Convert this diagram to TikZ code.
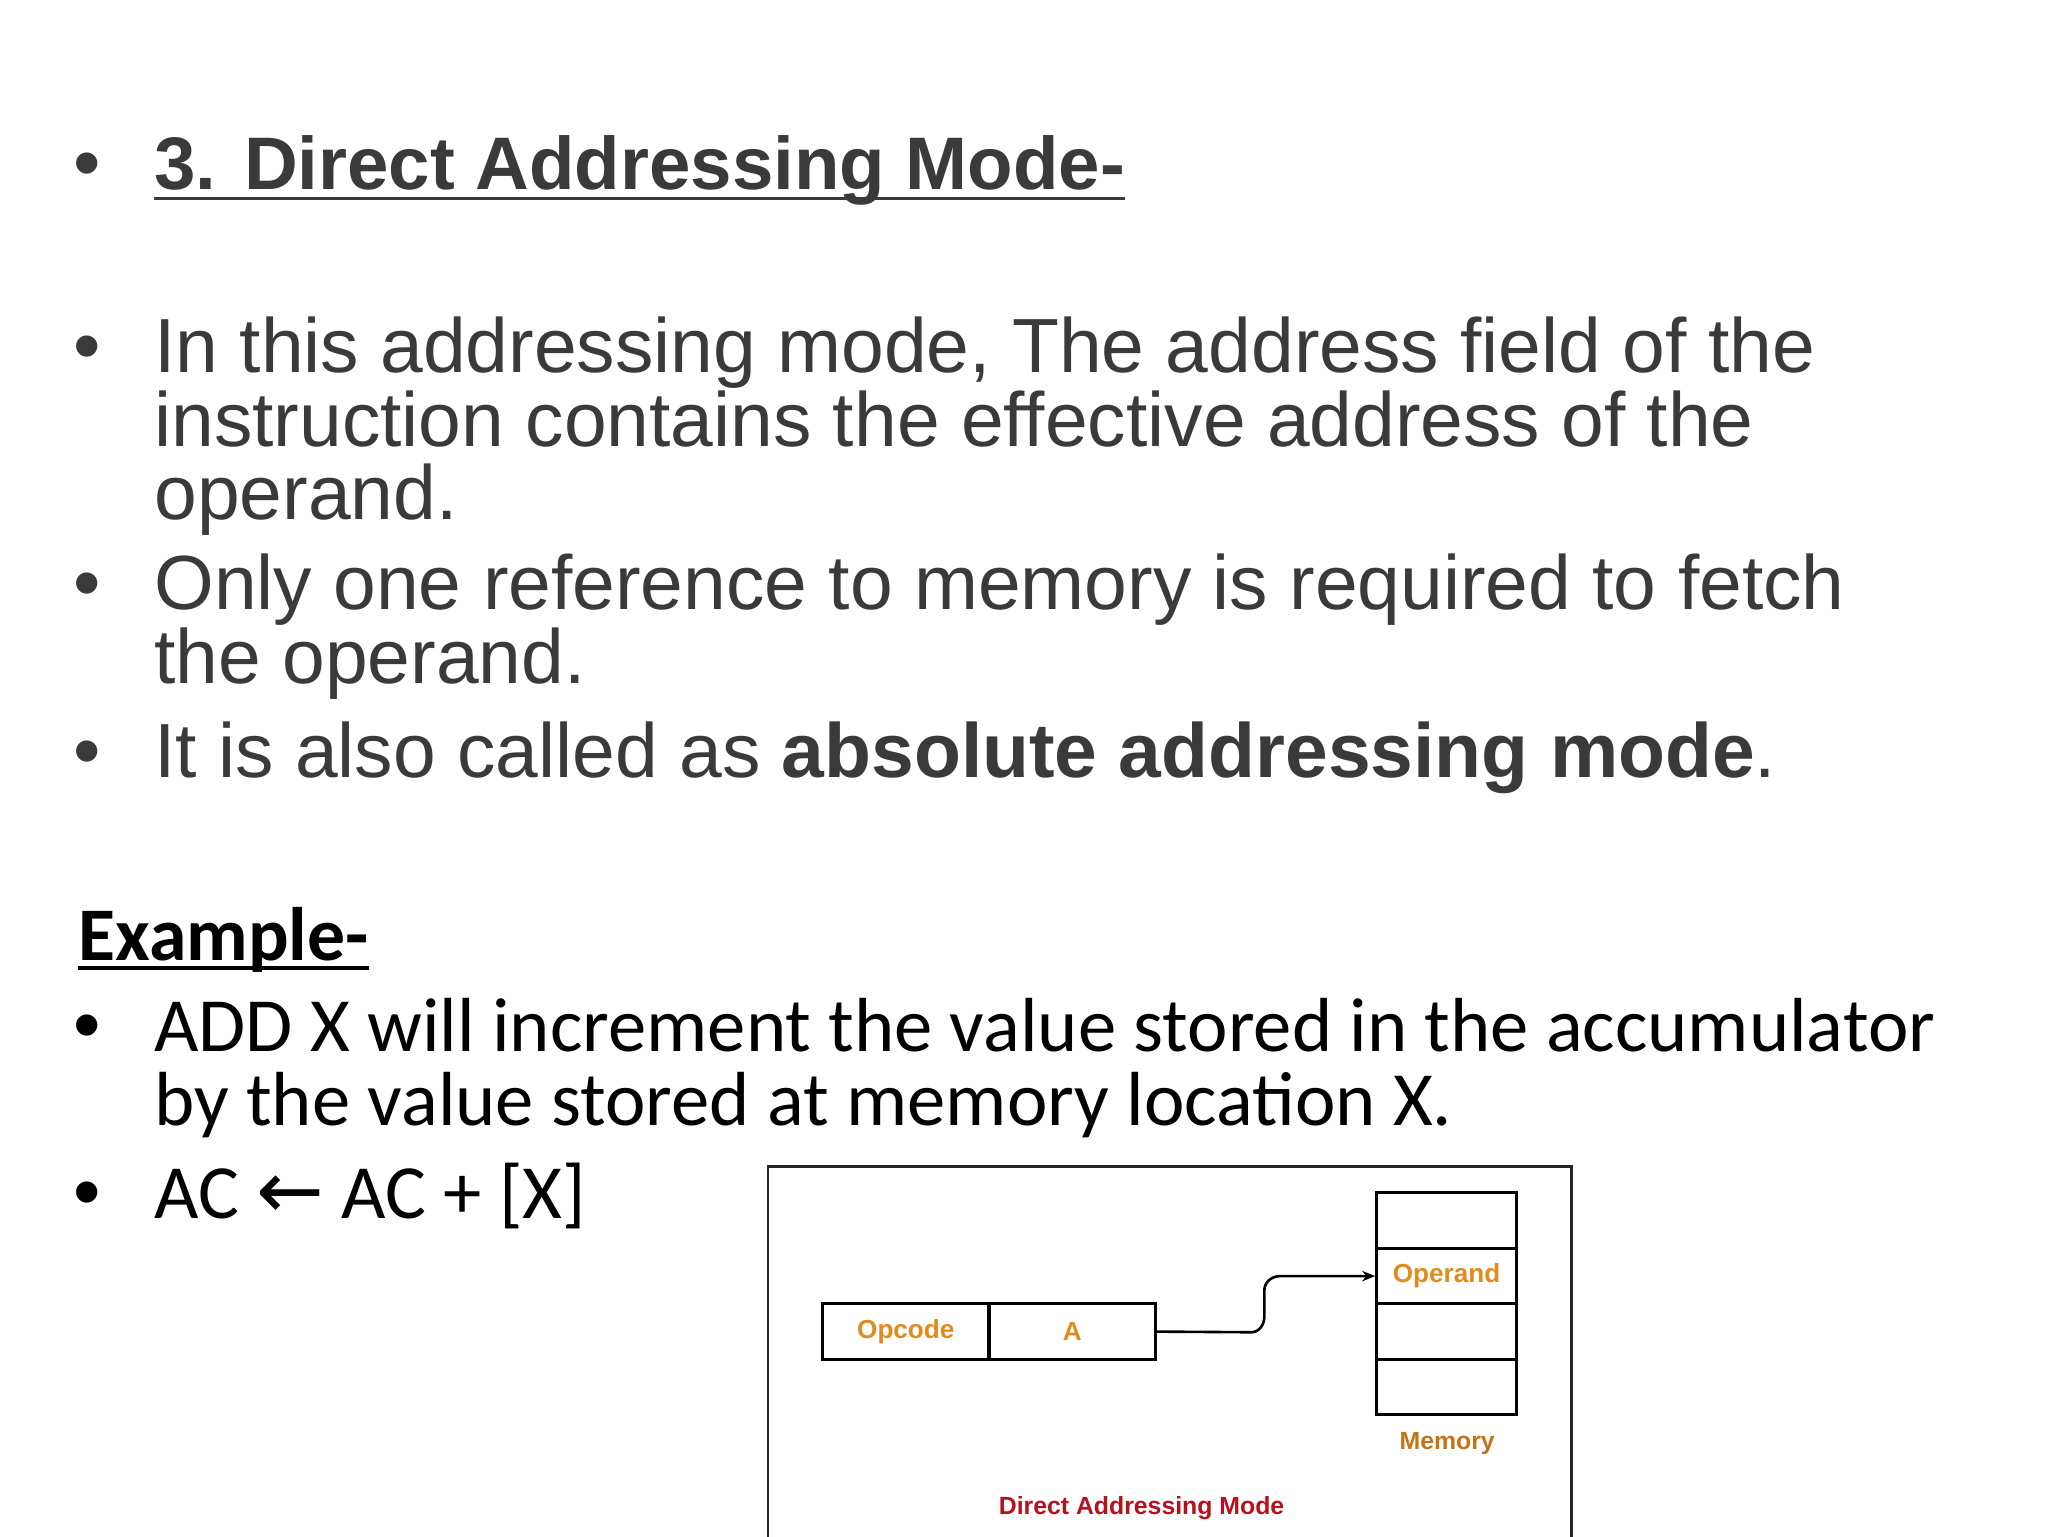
\documentclass[tikz,border=0pt]{standalone}
\usepackage{fontspec}
\usetikzlibrary{arrows.meta}
\setmainfont{Liberation Sans}
\newfontfamily\calfnt{Carlito}
\newfontfamily\djfnt{DejaVu Sans}
\definecolor{txt}{HTML}{3A3A3A}
\definecolor{org}{HTML}{E38A1C}
\definecolor{rd}{HTML}{B8101E}
\begin{document}
\begin{tikzpicture}[x=1pt,y=-1pt,
  ar/.style={inner sep=0pt,anchor=base west,text=txt,font=\fontsize{58.8}{58}\selectfont},
  cb/.style={inner sep=0pt,anchor=base west,text=black,font=\calfnt\fontsize{58.7}{58}\selectfont},
  bul/.style={inner sep=0pt,anchor=base west,font=\fontsize{60}{58}\selectfont},
  cell/.style={draw,line width=2.2pt,minimum width=127pt,minimum height=43pt,inner sep=0pt,font=\bfseries\fontsize{20}{20}\selectfont,text=org},
  mcell/.style={draw,line width=2.2pt,minimum width=107pt,minimum height=42.5pt,inner sep=0pt,font=\bfseries\fontsize{20}{20}\selectfont,text=org}]
\useasboundingbox (0,0) rectangle (1568,1176);
\fill[white] (0,0) rectangle (1568,1176);
\foreach \y in {145,285,467,595} \node[bul,text=txt] at (56,\y) {•};
\foreach \y in {805,933} \node[bul,text=black] at (56,\y) {•};
\node[ar,font=\bfseries\fontsize{57}{58}\selectfont] (t) at (118,145) {3. Direct Addressing Mode-};
\draw[txt,line width=3pt] ([yshift=-7pt]t.base west) -- ([yshift=-7pt]t.base east);
\node[ar] (l1) at (118,285) {In this addressing mode, The address field of the};
\node[ar] (l2) at (118,342) {instruction contains the effective address of the};
\node[ar] (l3) at (118,398) {operand.};
\node[ar] (l4) at (118,467) {Only one reference to memory is required to fetch};
\node[ar] (l5) at (118,523) {the operand.};
\node[ar] (l6) at (118,595) {It is also called as \textbf{absolute addressing mode}.};
\node[cb,font=\calfnt\bfseries\fontsize{58}{58}\selectfont] (ex) at (60,735) {Example-};
\draw[black,line width=3pt] ([yshift=-6pt]ex.base west) -- ([yshift=-6pt]ex.base east);
\node[cb] (a1) at (118,805) {ADD X will increment the value stored in the accumulator};
\node[cb] (a2) at (118,862) {by the value stored at memory location X.};
\node[cb] (a3) at (118,933) {AC {\djfnt\fontsize{62}{58}\selectfont ←} AC + [X]};
\draw[line width=2pt,black!85] (588,1180) -- (588,893) -- (1203,893) -- (1203,1180);
\node[cell] (op) at (693.5,1019.5) {Opcode};
\node[cell] (A) at (821,1019.5) {A};
\node[mcell] (m1) at (1107.5,934.5) {};
\node[mcell] (m2) at (1107.5,977) {Operand};
\node[mcell] (m3) at (1107.5,1019.5) {};
\node[mcell] (m4) at (1107.5,1062) {};
\node[font=\bfseries\fontsize{19}{19}\selectfont,text=org!85!black] (mem) at (1108,1105) {Memory};
\node[font=\bfseries\fontsize{19}{19}\selectfont,text=rd] (cap) at (874,1155) {Direct Addressing Mode};
\draw[line width=2pt,-{Stealth[length=10pt,width=8pt]}] (A.east) -- (958,1020) to[out=0,in=-90] (968,1008) -- (968,988) to[out=90,in=180] (980,977) -- (m2.west);
\end{tikzpicture}
\end{document}
